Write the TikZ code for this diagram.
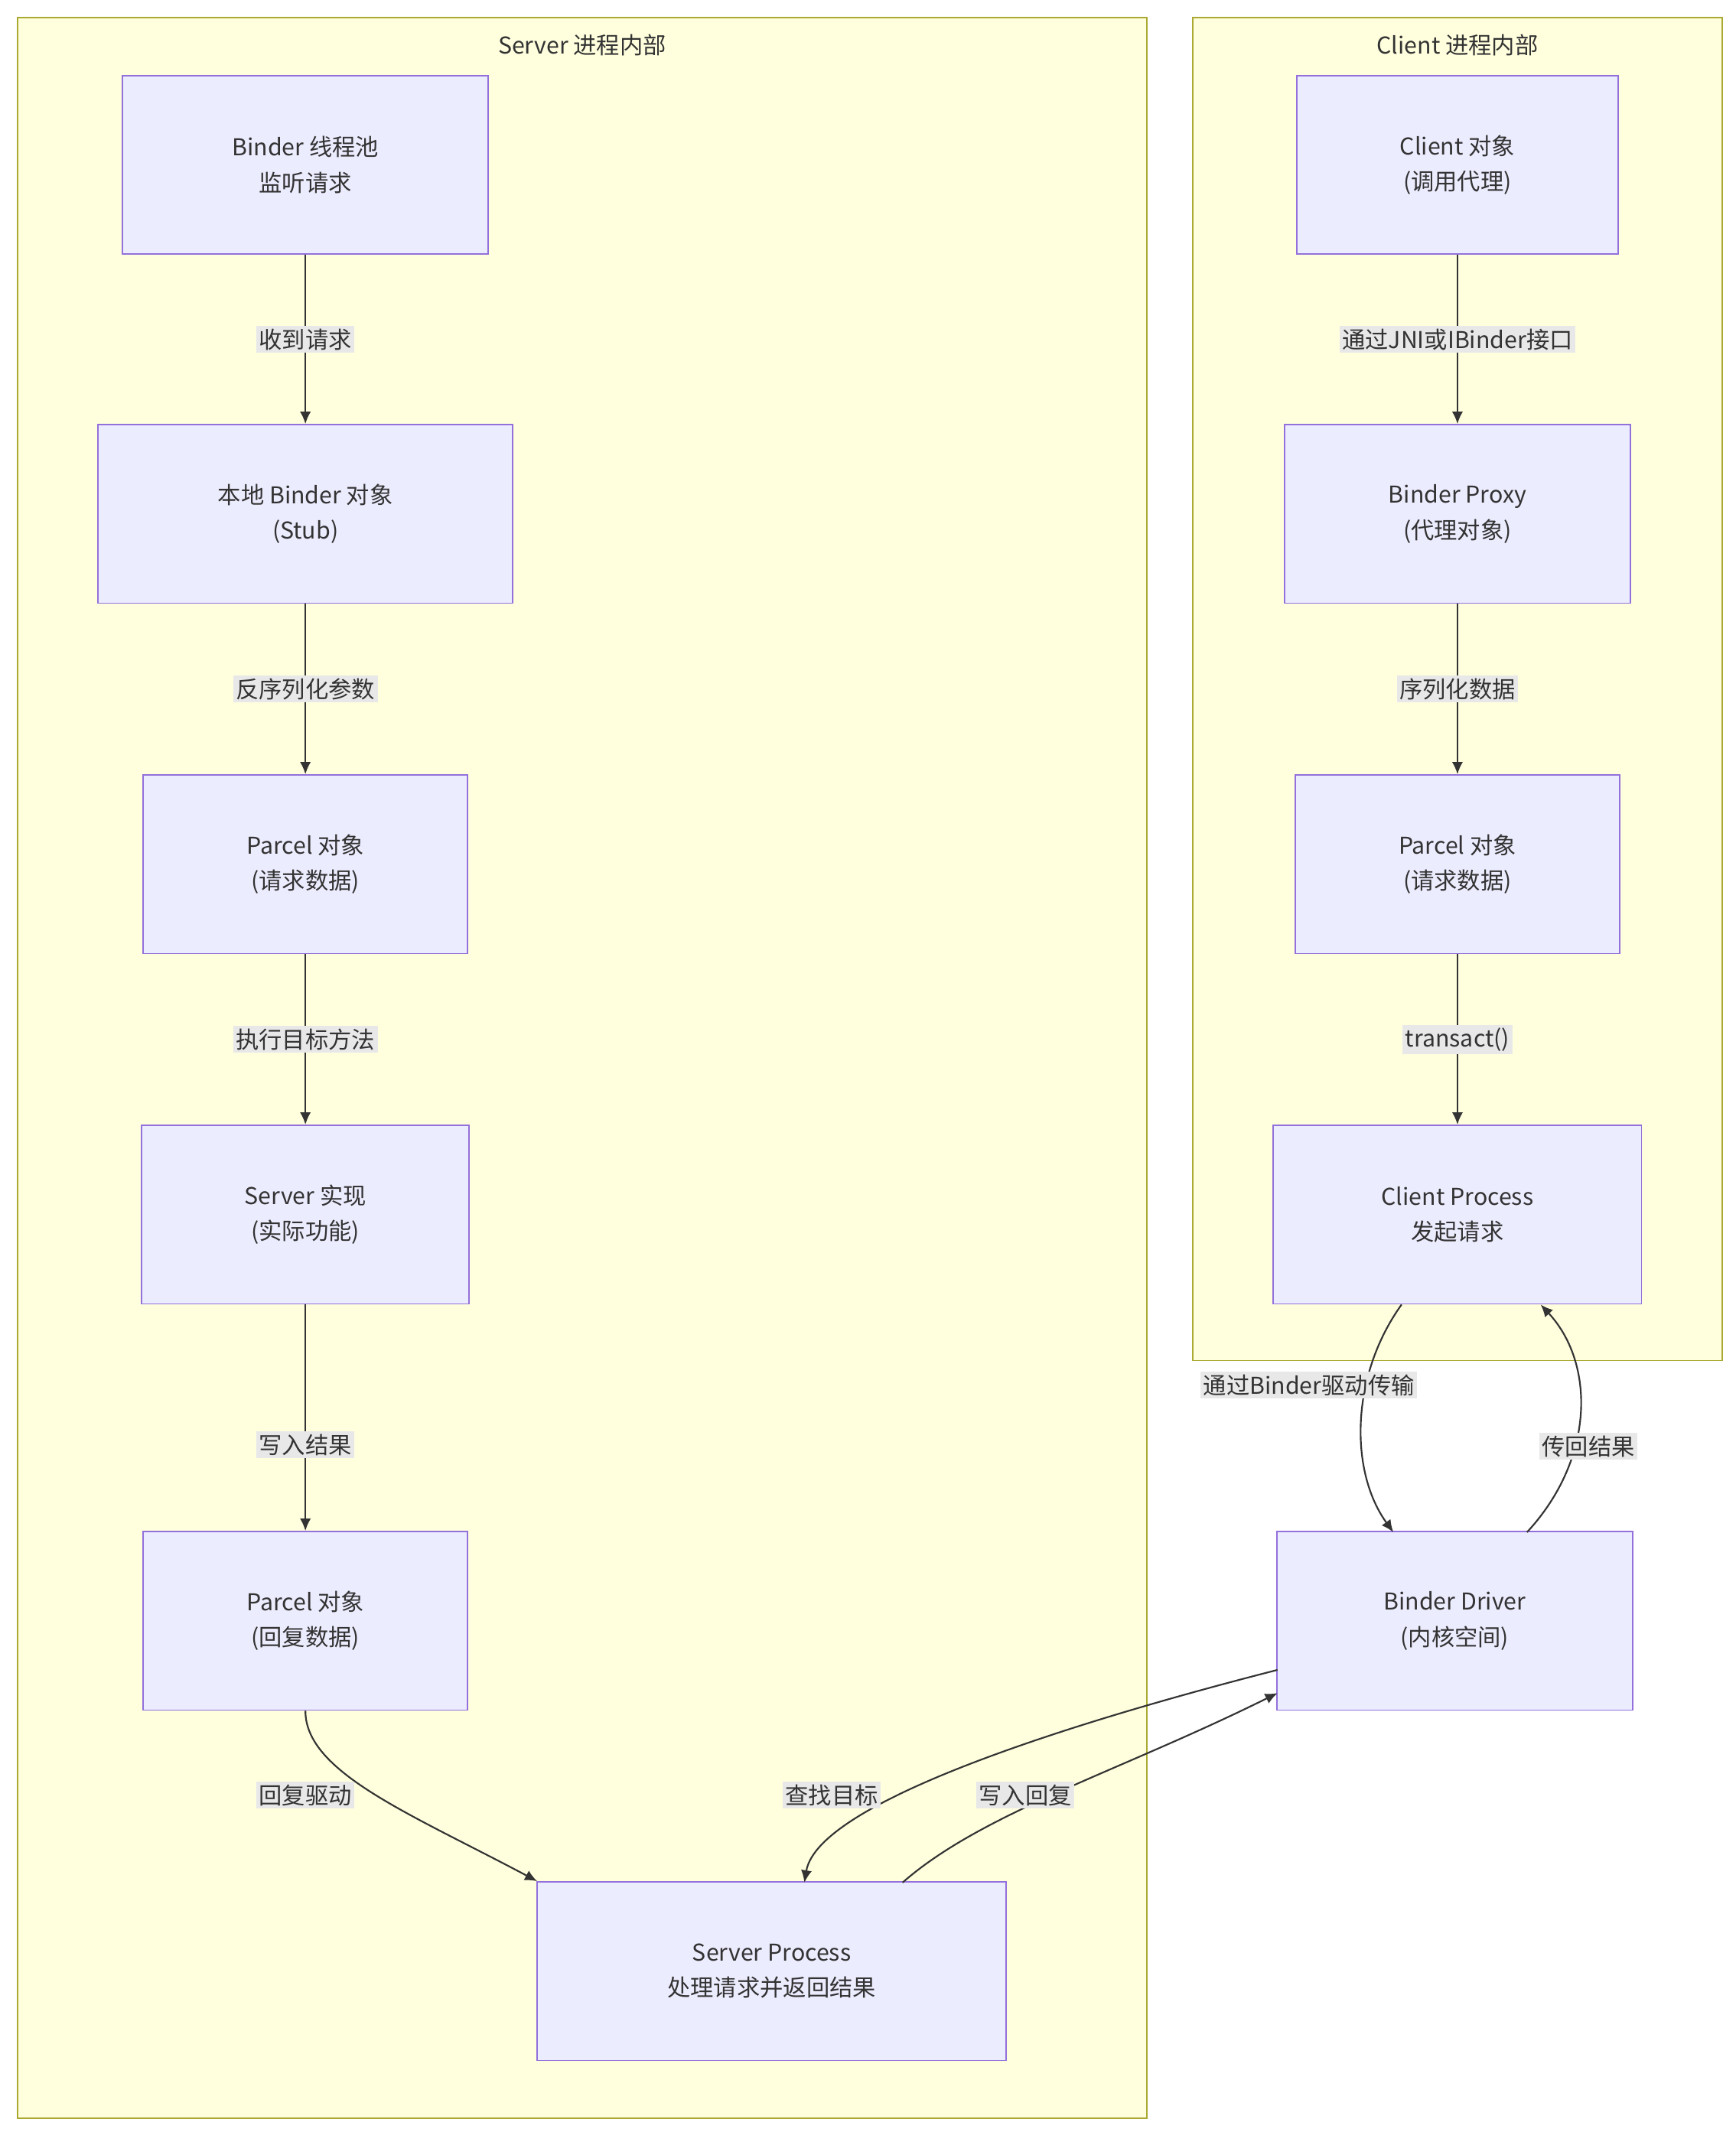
\documentclass[tikz,border=0pt]{standalone}
\usepackage{fontspec}
\setmainfont{Noto Sans CJK SC}
\usetikzlibrary{arrows.meta}
\definecolor{clf}{HTML}{FFFFDE}\definecolor{cls}{HTML}{AAAA33}
\definecolor{nf}{HTML}{ECECFF}\definecolor{ns}{HTML}{9370DB}
\definecolor{tx}{HTML}{333333}\definecolor{lb}{HTML}{E8E8E8}
\begin{document}
\begin{tikzpicture}[x=1pt,y=-1pt,font=\fontsize{17}{26}\selectfont,text=tx,
 cl/.style={draw=cls,fill=clf,line width=1pt},
 nd/.style={draw=ns,fill=nf,line width=1pt,align=center,inner sep=0pt},
 lab/.style={fill=lb,inner sep=2pt,text=tx},
 ar/.style={draw=tx,line width=1.2pt,-{Latex[length=9pt,width=8pt]}}]
\useasboundingbox (0,0) rectangle (1273,1564);
\fill[white] (0,0) rectangle (1273,1564);
\draw[cl] (13,13) rectangle (841,1554);
\draw[cl] (875,13) rectangle (1263,998);
\node at (427,33) {Server 进程内部};
\node at (1069,33) {Client 进程内部};
\newcommand{\nb}[6]{\node[nd,minimum width=#4,minimum height=131] (#1) at (#2,#3) {#5\\#6};}
\nb{b1}{224}{121}{268}{Binder 线程池}{监听请求}
\nb{b2}{224}{377}{304}{本地 Binder 对象}{(Stub)}
\nb{b3}{224}{634}{238}{Parcel 对象}{(请求数据)}
\nb{b4}{224}{891}{240}{Server 实现}{(实际功能)}
\nb{b5}{224}{1189}{238}{Parcel 对象}{(回复数据)}
\nb{sp}{566}{1446}{344}{Server Process}{处理请求并返回结果}
\nb{c1}{1069}{121}{236}{Client 对象}{(调用代理)}
\nb{c2}{1069}{377}{254}{Binder Proxy}{(代理对象)}
\nb{c3}{1069}{634}{238}{Parcel 对象}{(请求数据)}
\nb{c4}{1069}{891}{270}{Client Process}{发起请求}
\nb{bd}{1067}{1189}{261}{Binder Driver}{(内核空间)}
\draw[ar] (b1) -- node[lab]{收到请求} (b2);
\draw[ar] (b2) -- node[lab]{反序列化参数} (b3);
\draw[ar] (b3) -- node[lab]{执行目标方法} (b4);
\draw[ar] (b4) -- node[lab,pos=0.62]{写入结果} (b5);
\draw[ar] (c1) -- node[lab]{通过JNI或IBinder接口} (c2);
\draw[ar] (c2) -- node[lab]{序列化数据} (c3);
\draw[ar] (c3) -- node[lab]{transact()} (c4);
\draw[ar] (b5.south) .. controls (224,1300) and (300,1330) .. (sp.north west -| 394,1381);
\node[lab] at (224,1317) {回复驱动};
\draw[ar] (1028,957) .. controls (990,1010) and (990,1080) .. (1022,1124);
\node[lab] at (960,1016) {通过Binder驱动传输};
\draw[ar] (1120,1124) .. controls (1170,1070) and (1170,1000) .. (1130,957);
\node[lab] at (1165,1061) {传回结果};
\draw[ar] (937,1225) .. controls (800,1260) and (600,1320) .. (590,1381);
\node[lab] at (610,1317) {查找目标};
\draw[ar] (662,1381) .. controls (720,1330) and (820,1300) .. (937,1242);
\node[lab] at (752,1317) {写入回复};
\end{tikzpicture}
\end{document}
